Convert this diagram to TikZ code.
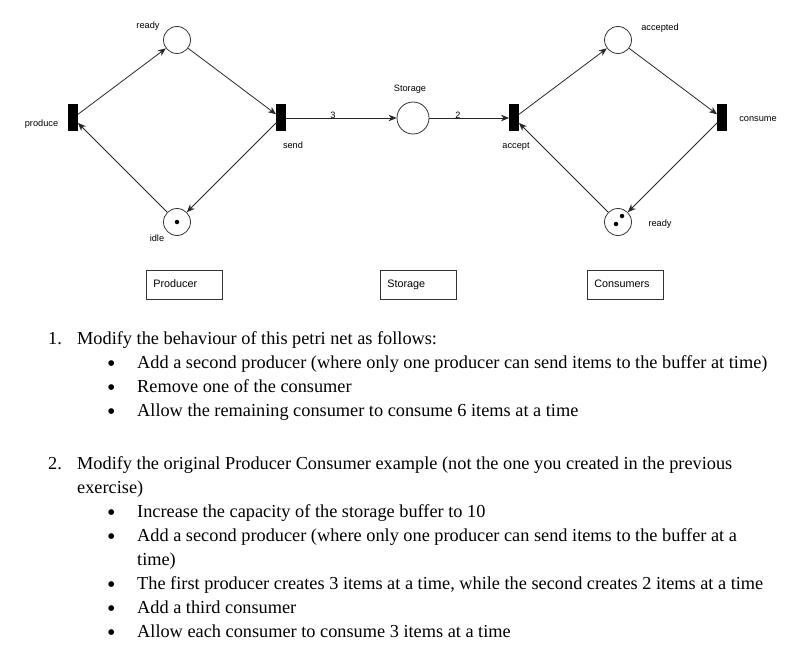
\documentclass[tikz,border=0pt]{standalone}
\usepackage{fontspec}
\setmainfont{Liberation Serif}
\newfontfamily\lab{Liberation Sans}
\usetikzlibrary{arrows.meta}
\begin{document}
\begin{tikzpicture}[x=1bp,y=-1bp,
  place/.style={circle, draw=black!80, line width=0.8bp, minimum size=27bp, inner sep=0pt},
  bigplace/.style={place, minimum size=32bp},
  trans/.style={rectangle, fill=black, minimum width=9.5bp, minimum height=27bp, inner sep=0pt},
  lbl/.style={font=\lab\fontsize{9.2bp}{11bp}\selectfont, inner sep=0pt},
  token/.style={circle, fill=black, minimum size=4.5bp, inner sep=0pt},
  arc/.style={draw=black!85, line width=0.8bp, -{Stealth[length=8bp,width=6.5bp,inset=2.5bp]}},
  box/.style={draw=black!80, line width=0.8bp, anchor=north west, text width=62bp, align=left,
     inner xsep=7bp, minimum height=29bp, text height=8bp, text depth=2.5bp,
     font=\lab\fontsize{10.8bp}{12bp}\selectfont},
  txt/.style={anchor=base west, inner sep=0pt, font=\fontsize{18.3bp}{22bp}\selectfont},
  bul/.style={anchor=base west, inner sep=0pt, font=\fontsize{24bp}{24bp}\selectfont}
]
\useasboundingbox (0,0) rectangle (801,660);
% places and transitions
\node[trans] (produce) at (73,118) {};
\node[place] (ready) at (177,40) {};
\node[trans] (send) at (281,118) {};
\node[place] (idle) at (177,222) {};
\node[bigplace] (storage) at (413,118) {};
\node[trans] (accept) at (514,118) {};
\node[place] (accepted) at (618,40) {};
\node[trans] (consume) at (722,118) {};
\node[place] (cready) at (618,222) {};
% tokens
\node[token] (t1) at (177,222) {};
\node[token] (t2) at (616,224) {};
\node[token] (t3) at (622,216) {};
% arcs
\draw[arc] (produce) -- (ready);
\draw[arc] (ready) -- (send);
\draw[arc] (send) -- (idle);
\draw[arc] (idle) -- (produce);
\draw[arc] (send) -- (storage);
\draw[arc] (storage) -- (accept);
\draw[arc] (accept) -- (accepted);
\draw[arc] (accepted) -- (consume);
\draw[arc] (consume) -- (cready);
\draw[arc] (cready) -- (accept);
% labels
\node[lbl] (lready) at (148,26) {ready};
\node[lbl] (lproduce) at (41.5,124) {produce};
\node[lbl] (lsend) at (293,145) {send};
\node[lbl] (lidle) at (157,238) {idle};
\node[lbl] (lstorage) at (410,89) {Storage};
\node[lbl] (w3) at (333,115.5) {3};
\node[lbl] (w2) at (458,115.5) {2};
\node[lbl] (laccept) at (516,146) {accept};
\node[lbl] (laccepted) at (660,28) {accepted};
\node[lbl] (lconsume) at (758,119) {consume};
\node[lbl] (lcready) at (660,224) {ready};
% boxes
\node[box] (bprod) at (146,270) {Producer};
\node[box] (bstor) at (380,270) {Storage};
\node[box] (bcons) at (587,270) {Consumers};
% text
\node[txt] (n1) at (48,344) {1.};
\node[txt] (l1) at (77,344) {Modify the behaviour of this petri net as follows:};
\node[bul] (u11) at (107,371) {•};
\node[txt] (b11) at (137,368) {Add a second producer (where only one producer can send items to the buffer at time)};
\node[bul] (u12) at (107,395) {•};
\node[txt] (b12) at (137,392) {Remove one of the consumer};
\node[bul] (u13) at (107,419) {•};
\node[txt] (b13) at (137,416) {Allow the remaining consumer to consume 6 items at a time};
\node[txt] (n2) at (48,469) {2.};
\node[txt] (l2a) at (77,469) {Modify the original Producer Consumer example (not the one you created in the previous};
\node[txt] (l2b) at (77,493) {exercise)};
\node[bul] (u21) at (107,520) {•};
\node[txt] (b21) at (137,517) {Increase the capacity of the storage buffer to 10};
\node[bul] (u22) at (107,544) {•};
\node[txt] (b22) at (137,541) {Add a second producer (where only one producer can send items to the buffer at a};
\node[txt] (b22b) at (137,565) {time)};
\node[bul] (u23) at (107,592) {•};
\node[txt] (b23) at (137,589) {The first producer creates 3 items at a time, while the second creates 2 items at a time};
\node[bul] (u24) at (107,616) {•};
\node[txt] (b24) at (137,613) {Add a third consumer};
\node[bul] (u25) at (107,640) {•};
\node[txt] (b25) at (137,637) {Allow each consumer to consume 3 items at a time};
\end{tikzpicture}
\end{document}
